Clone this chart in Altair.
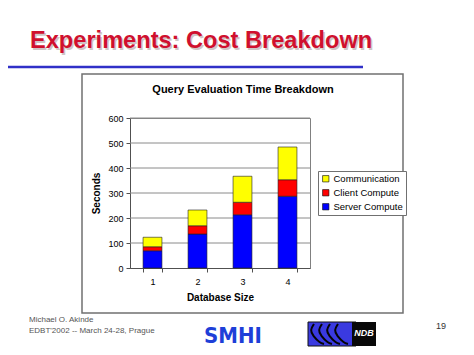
import altair as alt
import pandas as pd

# ---- data ----
sizes = ["1", "2", "3", "4"]
server_compute = [69, 136, 213, 287]
client_compute = [16, 33, 50, 66]
communication = [38, 63, 104, 131]
series_names = ["Server Compute", "Client Compute", "Communication"]
series_colors = ["#0000ff", "#ff0000", "#ffff00"]
y_ticks = [0, 100, 200, 300, 400, 500, 600]

rows = []
for i, s in enumerate(sizes):
    for k, (name, vals) in enumerate(zip(series_names, [server_compute, client_compute, communication])):
        rows.append({"size": s, "series": name, "value": vals[i], "order": k})
df = pd.DataFrame(rows)
grid_df = pd.DataFrame({"value": y_ticks[1:]})

FONT = "Liberation Sans"
W, H = 180, 150
OX, OY = 130, 118  # plot origin in page pixels


def px(x):
    return x - OX


def py(y):
    return y - OY


one = pd.DataFrame({"a": [0]})

# chart frame (border only)
frame = alt.Chart(one).mark_rect(fillOpacity=0, stroke="#707070", strokeWidth=1.5).encode(
    x=alt.value(px(82)), x2=alt.value(px(403)), y=alt.value(py(74)), y2=alt.value(py(313))
)

# slide title with shadow
title_shadow = alt.Chart(one).mark_text(
    text="Experiments: Cost Breakdown", font=FONT, fontSize=23.6, fontWeight="bold",
    color="#b0a0a0", align="left", baseline="alphabetic", opacity=0.6
).encode(x=alt.value(px(31.5)), y=alt.value(py(49.5)))
title = alt.Chart(one).mark_text(
    text="Experiments: Cost Breakdown", font=FONT, fontSize=23.6, fontWeight="bold",
    color="#d0102e", align="left", baseline="alphabetic"
).encode(x=alt.value(px(30)), y=alt.value(py(48)))

blue_line = alt.Chart(one).mark_rule(color="#3030c8", strokeWidth=2.5).encode(
    x=alt.value(px(8)), x2=alt.value(px(363)), y=alt.value(py(67))
)

chart_title = alt.Chart(one).mark_text(
    text="Query Evaluation Time Breakdown", font=FONT, fontSize=11, fontWeight="bold",
    color="black", align="center", baseline="alphabetic"
).encode(x=alt.value(px(243)), y=alt.value(py(93)))

y_scale = alt.Scale(domain=[0, 600], nice=False)

grid = alt.Chart(grid_df).mark_rule(color="#8a8a8a", strokeWidth=1).encode(
    y=alt.Y("value:Q", scale=y_scale, axis=None),
    x=alt.value(0), x2=alt.value(W),
)

y_axis = alt.Axis(title="Seconds", values=y_ticks, labelFontSize=9,
                  labelFont=FONT, titleFont=FONT, titleFontSize=10,
                  titleFontWeight="bold", tickSize=4, grid=False,
                  domainColor="#505050", tickColor="#505050",
                  labelPadding=3, titlePadding=6, labelColor="black")

bars = alt.Chart(df).mark_bar(stroke="#202020", strokeWidth=0.6).encode(
    x=alt.X("size:N", sort=sizes,
            scale=alt.Scale(paddingInner=0.58, paddingOuter=0.29),
            axis=alt.Axis(title="Database Size", labelAngle=0, labelFontSize=9,
                          labelFont=FONT, titleFont=FONT, titleFontSize=10,
                          titleFontWeight="bold", tickBand="extent", tickSize=4,
                          grid=False,
                          domainColor="#505050", tickColor="#505050",
                          labelPadding=5, titlePadding=6, labelColor="black")),
    y=alt.Y("value:Q", stack="zero", scale=y_scale, axis=y_axis),
    color=alt.Color("series:N",
                    scale=alt.Scale(domain=series_names[::-1], range=series_colors[::-1]),
                    legend=alt.Legend(title=None, orient="none",
                                      legendX=px(318), legendY=py(171),
                                      symbolType="square", symbolSize=40,
                                      symbolStrokeColor="black", symbolStrokeWidth=0.6,
                                      symbolOpacity=1, labelOffset=3,
                                      labelFont=FONT, labelFontSize=9.5, labelColor="black",
                                      rowPadding=3, padding=3, strokeColor="#707070",
                                      fillColor="white", labelLimit=200)),
    order=alt.Order("order:Q"),
)

plot = alt.layer(grid, bars).resolve_axis(y="independent")

foot1 = alt.Chart(one).mark_text(
    text="Michael O. Akinde", font=FONT, fontSize=8, color="#555555",
    align="left", baseline="middle"
).encode(x=alt.value(px(29)), y=alt.value(py(320)))
foot2 = alt.Chart(one).mark_text(
    text="EDBT'2002 -- March 24-28, Prague", font=FONT, fontSize=8, color="#555555",
    align="left", baseline="middle"
).encode(x=alt.value(px(29)), y=alt.value(py(331)))

smhi = alt.Chart(one).mark_text(
    text="SMHI", font="DejaVu Sans Condensed, Liberation Sans Narrow, Liberation Sans",
    fontSize=22, fontWeight="bold", color="#1e3fd8",
    align="center", baseline="alphabetic"
).encode(x=alt.value(px(233)), y=alt.value(py(343)))

ndb_blue = alt.Chart(one).mark_rect(fill="#3a3ae0", stroke="#101010", strokeWidth=1).encode(
    x=alt.value(px(308)), x2=alt.value(px(356)), y=alt.value(py(322)), y2=alt.value(py(346))
)
ndb_black = alt.Chart(one).mark_rect(fill="#080808").encode(
    x=alt.value(px(352)), x2=alt.value(px(376)), y=alt.value(py(322)), y2=alt.value(py(346))
)
ndb_text = alt.Chart(one).mark_text(
    text="NDB", font=FONT, fontSize=9, fontStyle="italic", fontWeight="bold", color="white",
    align="center", baseline="middle"
).encode(x=alt.value(px(364)), y=alt.value(py(333)))

# wavy black strokes inside the NDB logo
wave_rows = []
for j, x0 in enumerate([314, 322, 330, 338]):
    for t, (dx, yy) in enumerate([(0, 324), (-4, 330), (-1, 336), (6, 343), (10, 344)]):
        wave_rows.append({"w": j, "t": t, "xx": px(x0 + dx), "yy": py(yy)})
waves = alt.Chart(pd.DataFrame(wave_rows)).mark_line(
    color="#050505", strokeWidth=2, interpolate="basis"
).encode(
    x=alt.X("xx:Q", scale=None), y=alt.Y("yy:Q", scale=None),
    detail="w:N", order="t:Q"
)

page_no = alt.Chart(one).mark_text(
    text="19", font=FONT, fontSize=9, color="#333333", align="center", baseline="middle"
).encode(x=alt.value(px(441)), y=alt.value(py(326)))

chart = alt.layer(
    frame, title_shadow, title, blue_line, chart_title, plot,
    foot1, foot2, smhi, ndb_blue, waves, ndb_black, ndb_text, page_no
).resolve_scale(x="independent", y="independent").properties(
    width=W, height=H,
    autosize=alt.AutoSizeParams(type="none"),
    padding={"left": 122, "top": 110, "right": 156, "bottom": 79},
).configure_view(stroke="#808080", strokeWidth=1)

chart.save("out.html", embed_options={"renderer": "svg", "actions": False})
